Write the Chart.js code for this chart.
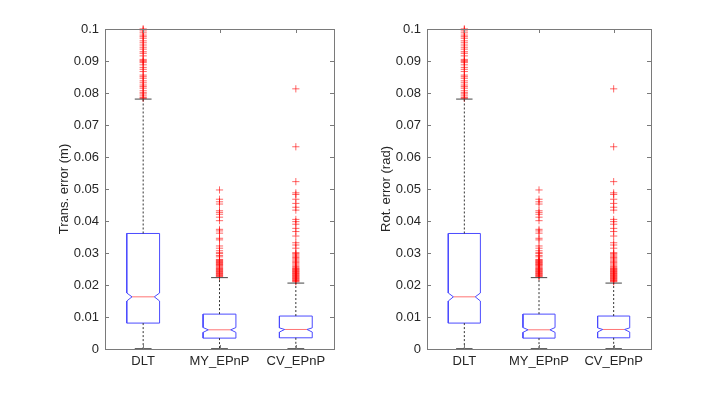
<!DOCTYPE html>
<html>
<head>
<meta charset="utf-8">
<script src="https://cdn.jsdelivr.net/npm/chart.js@4.4.0/dist/chart.umd.min.js"></script>
<style>
  html, body { margin: 0; padding: 0; background: #fff; }
  #wrap { position: relative; width: 720px; height: 393px; }
  canvas { position: absolute; top: 0; }
</style>
</head>
<body>
<div id="wrap">
  <canvas id="transChart" width="360" height="393" style="left:0"></canvas>
  <canvas id="rotChart" width="360" height="393" style="left:360px"></canvas>
</div>
<script>
// values (both panels show the same distributions)
const categories = ['DLT', 'MY_EPnP', 'CV_EPnP'];
const whiskerLo = [0.0001, 0.0001, 0.0001];
const q1 = [0.0081, 0.0034, 0.0035];
const notchLo = [0.0150, 0.0052, 0.0053];
const median = [0.0163, 0.0060, 0.0061];
const notchHi = [0.0175, 0.0067, 0.0066];
const q3 = [0.0361, 0.0109, 0.0103];
const whiskerHi = [0.0781, 0.0223, 0.0206];

const outliersDLT = [0.1, 0.0999, 0.0994, 0.0988, 0.0981, 0.0976, 0.0971, 0.0963, 0.0957, 0.095,
  0.0943, 0.0937, 0.0929, 0.0924, 0.0916, 0.0905, 0.0901, 0.0899, 0.0895, 0.0888, 0.088,
  0.0874, 0.0867, 0.0856, 0.0851, 0.0846, 0.0838, 0.0832, 0.0825, 0.082, 0.0815, 0.0807,
  0.0801, 0.0797, 0.0791, 0.0786, 0.0783];
const outliersMY = [0.0497, 0.0468, 0.046, 0.0453, 0.0432, 0.0427, 0.0421, 0.0412, 0.0401,
  0.0374, 0.0369, 0.0362, 0.0346, 0.0341, 0.0322, 0.0315, 0.0307, 0.0301, 0.0298, 0.0292,
  0.0288, 0.028, 0.0278, 0.0276, 0.0274, 0.0272, 0.027, 0.0268, 0.0266, 0.0264, 0.0262,
  0.026, 0.0257, 0.0254, 0.0252, 0.025, 0.0248, 0.0246, 0.0244, 0.0242, 0.024, 0.0238,
  0.0236, 0.0234, 0.0232, 0.023, 0.0228, 0.0226];
const outliersCV = [0.0813, 0.0632, 0.0523, 0.0488, 0.0483, 0.0468, 0.0455, 0.0443, 0.0434,
  0.0405, 0.0398, 0.039, 0.0377, 0.0367, 0.0353, 0.0332, 0.0325, 0.0315, 0.0301, 0.0298,
  0.0294, 0.029, 0.0286, 0.0282, 0.0278, 0.0274, 0.027, 0.0266, 0.0262, 0.0258, 0.0254,
  0.0252, 0.025, 0.0248, 0.0246, 0.0244, 0.0242, 0.024, 0.0238, 0.0236, 0.0234, 0.0232,
  0.023, 0.0228, 0.0226, 0.0224, 0.0222, 0.022, 0.0218, 0.0216, 0.0214, 0.0212, 0.021];
const outliers = [outliersDLT, outliersMY, outliersCV];

const yTickValues = [0, 0.01, 0.02, 0.03, 0.04, 0.05, 0.06, 0.07, 0.08, 0.09, 0.1];
const yTickLabels = ['0', '0.01', '0.02', '0.03', '0.04', '0.05', '0.06', '0.07', '0.08', '0.09', '0.1'];

const BOX_HALF = 0.215;
const NOTCH_IN = 0.68;
const CAP_HALF = 0.11;
const BLUE = 'rgb(75,75,255)';
const RED = 'rgba(255,0,0,0.6)';
const TEXT = '#262626';
const AXIS = '#7a7a7a';
const FONT = { family: "'Liberation Sans', Arial, Helvetica, sans-serif", size: 13 };

function line(data, color, dash) {
  return {
    type: 'scatter', data, showLine: true, borderColor: color, borderWidth: 1,
    borderDash: dash || [], pointRadius: 0, fill: false, clip: false
  };
}

function buildDatasets() {
  const sets = [];
  categories.forEach((c, i) => {
    const x = i + 1;
    sets.push(line([{ x, y: q3[i] }, { x, y: whiskerHi[i] }], '#333', [2, 2]));
    sets.push(line([{ x, y: q1[i] }, { x, y: whiskerLo[i] }], '#333', [2, 2]));
    sets.push(line([{ x: x - CAP_HALF, y: whiskerHi[i] }, { x: x + CAP_HALF, y: whiskerHi[i] }], '#444'));
    sets.push(line([{ x: x - CAP_HALF, y: whiskerLo[i] }, { x: x + CAP_HALF, y: whiskerLo[i] }], '#444'));
    const w = BOX_HALF, n = BOX_HALF * NOTCH_IN;
    sets.push(line([
      { x: x - w, y: q1[i] }, { x: x + w, y: q1[i] }, { x: x + w, y: notchLo[i] },
      { x: x + n, y: median[i] }, { x: x + w, y: notchHi[i] }, { x: x + w, y: q3[i] },
      { x: x - w, y: q3[i] }, { x: x - w, y: notchHi[i] }, { x: x - n, y: median[i] },
      { x: x - w, y: notchLo[i] }, { x: x - w, y: q1[i] }
    ], BLUE));
    sets.push(line([{ x: x - n, y: median[i] }, { x: x + n, y: median[i] }], 'rgba(255,70,70,0.75)'));
    sets.push({
      type: 'scatter', data: outliers[i].map(v => ({ x, y: v })),
      pointStyle: 'cross', pointRadius: 3.6, borderWidth: 1,
      borderColor: RED, backgroundColor: RED, clip: false
    });
  });
  return sets;
}

// MATLAB-like box frame with inward ticks on all four sides
const matlabFrame = {
  id: 'matlabFrame',
  afterDatasetsDraw(chart) {
    const { ctx, chartArea: a, scales: { x, y } } = chart;
    ctx.save();
    ctx.strokeStyle = AXIS;
    ctx.lineWidth = 1;
    ctx.strokeRect(a.left + 0.5, a.top + 0.5, a.right - a.left, a.bottom - a.top);
    ctx.beginPath();
    yTickValues.forEach(v => {
      const py = Math.round(y.getPixelForValue(v)) + 0.5;
      ctx.moveTo(a.left, py); ctx.lineTo(a.left + 4, py);
      ctx.moveTo(a.right, py); ctx.lineTo(a.right - 4, py);
    });
    categories.forEach((c, i) => {
      const px = Math.round(x.getPixelForValue(i + 1)) + 0.5;
      ctx.moveTo(px, a.bottom); ctx.lineTo(px, a.bottom - 4);
      ctx.moveTo(px, a.top); ctx.lineTo(px, a.top + 4);
    });
    ctx.stroke();
    ctx.restore();
  }
};

function makeChart(id, yTitle, yAxisWidth, titlePad, rightPad) {
  return new Chart(document.getElementById(id), {
    type: 'scatter',
    data: { datasets: buildDatasets() },
    options: {
      responsive: false,
      devicePixelRatio: 1,
      animation: false,
      events: [],
      layout: { padding: { left: 0, right: rightPad, top: 29, bottom: 0 } },
      plugins: { legend: { display: false }, tooltip: { enabled: false } },
      scales: {
        x: {
          type: 'linear', min: 0.5, max: 3.5,
          afterBuildTicks: s => { s.ticks = categories.map((c, i) => ({ value: i + 1 })); },
          afterFit: s => { s.height = 44; },
          grid: { display: false, drawTicks: false },
          border: { display: false },
          ticks: {
            padding: 5, color: TEXT, font: FONT, autoSkip: false, maxRotation: 0,
            callback: v => categories[v - 1]
          }
        },
        y: {
          type: 'linear', min: 0, max: 0.1,
          afterBuildTicks: s => { s.ticks = yTickValues.map(v => ({ value: v })); },
          afterFit: s => { s.width = yAxisWidth; },
          grid: { display: false, drawTicks: false },
          border: { display: false },
          ticks: { padding: 6, color: TEXT, font: FONT, callback: (v, i) => yTickLabels[i] },
          title: { display: true, text: yTitle, color: TEXT, font: FONT, padding: { top: titlePad, bottom: 0 } }
        }
      }
    },
    plugins: [matlabFrame]
  });
}

makeChart('transChart', 'Trans. error (m)', 105, 57, 26);
makeChart('rotChart', 'Rot. error (rad)', 67, 19, 69);
</script>
</body>
</html>
